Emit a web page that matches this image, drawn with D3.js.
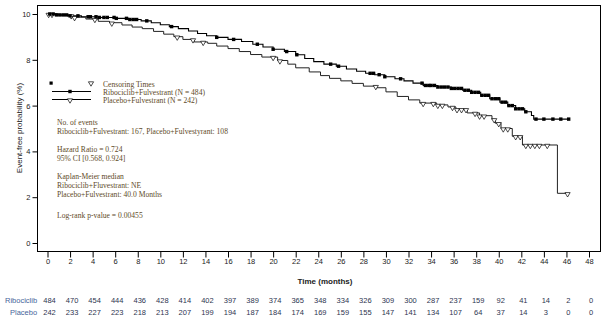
<!DOCTYPE html>
<html lang="en">
<head>
    <meta charset="UTF-8">
    <title>Event-free probability</title>
    <script src="https://d3js.org/d3.v7.min.js"></script>
    <style>
        body { margin: 0; background: #fff; }
        .note { font-family: "Liberation Serif", "Times New Roman", serif; font-size: 7.6px; fill: #5e4a1f; }
        .tick-lab { font-family: "Liberation Sans", Arial, sans-serif; font-size: 7.5px; fill: #222; }
        .risk { font-family: "Liberation Sans", Arial, sans-serif; font-size: 7.5px; }
    </style>
</head>
<body>
<div id="chart"></div>
<script>
// step points (time in months, survival 0..1)
const ribTime = [0, 0.8, 1.8, 3.0, 4.5, 6.0, 7.2, 8.3, 9.2, 10.0, 10.8, 11.6, 12.5, 13.3, 14.1, 15.0, 16.0, 17.2, 18.2, 19.1, 20.0, 21.0, 22.0, 22.8, 23.6, 24.5, 25.6, 26.5, 27.4, 28.2, 29.0, 29.9, 30.8, 31.6, 32.4, 33.3, 34.6, 35.8, 36.8, 37.6, 38.4, 39.2, 40.1, 40.8, 41.5, 42.3, 42.9, 43.1, 46.2];
const ribSurv = [1.0, 0.996, 0.992, 0.988, 0.985, 0.981, 0.976, 0.970, 0.962, 0.953, 0.945, 0.936, 0.926, 0.915, 0.905, 0.898, 0.889, 0.880, 0.868, 0.856, 0.846, 0.836, 0.822, 0.806, 0.792, 0.781, 0.772, 0.760, 0.750, 0.741, 0.735, 0.726, 0.717, 0.708, 0.698, 0.688, 0.681, 0.675, 0.667, 0.658, 0.645, 0.630, 0.615, 0.600, 0.586, 0.573, 0.557, 0.541, 0.541];
const plaTime = [0, 1.0, 2.2, 3.4, 4.5, 5.5, 6.6, 7.5, 8.4, 9.4, 10.3, 11.2, 12.0, 13.0, 14.2, 15.0, 16.0, 17.0, 18.0, 19.0, 20.4, 21.3, 22.0, 23.2, 24.2, 25.0, 26.0, 27.0, 28.0, 29.2, 30.0, 31.0, 32.0, 33.0, 34.5, 35.5, 36.2, 37.2, 38.3, 39.4, 39.7, 40.2, 41.2, 42.1, 45.2, 46.1];
const plaSurv = [1.0, 0.994, 0.986, 0.978, 0.968, 0.962, 0.952, 0.943, 0.936, 0.924, 0.912, 0.901, 0.889, 0.878, 0.872, 0.860, 0.849, 0.836, 0.823, 0.812, 0.797, 0.781, 0.765, 0.747, 0.731, 0.719, 0.708, 0.697, 0.685, 0.678, 0.660, 0.640, 0.625, 0.611, 0.603, 0.594, 0.584, 0.568, 0.556, 0.540, 0.523, 0.500, 0.466, 0.428, 0.217, 0.217];

// censoring times
const ribCensor = [0.2, 0.5, 0.8, 1.1, 1.4, 1.7, 2.0, 2.7, 3.6, 3.8, 4.3, 4.6, 5.0, 5.3, 5.9, 6.1, 7.0, 7.3, 7.6, 7.9, 8.8, 11.0, 15.0, 16.5, 18.6, 20.0, 21.2, 22.1, 25.1, 25.8, 28.6, 28.9, 29.4, 29.9, 31.3, 33.2, 33.5, 33.8, 34.0, 34.3, 34.6, 34.9, 35.2, 35.5, 35.8, 36.1, 36.4, 36.7, 37.0, 37.3, 37.6, 37.9, 38.2, 38.5, 38.8, 39.1, 39.4, 39.7, 40.0, 40.3, 40.6, 40.9, 41.2, 41.5, 41.8, 42.1, 42.4, 43.3, 44.0, 44.8, 45.5, 46.2];
const plaCensor = [0.1, 0.4, 2.1, 2.4, 4.2, 5.7, 11.5, 12.9, 13.8, 20.0, 20.6, 29.1, 33.3, 34.2, 34.6, 35.0, 35.9, 36.3, 36.7, 37.1, 37.9, 38.3, 38.7, 39.6, 40.0, 40.4, 40.8, 41.5, 41.9, 42.4, 42.8, 43.2, 43.6, 44.3, 46.1];

// axes
const xTicks = [0, 2, 4, 6, 8, 10, 12, 14, 16, 18, 20, 22, 24, 26, 28, 30, 32, 34, 36, 38, 40, 42, 44, 46, 48];
const yTicks = [0, 0.2, 0.4, 0.6, 0.8, 1.0];
const yTickLabels = ["0", "2", "4", "6", "8", "10"];

// number at risk
const riskTimes = [0, 2, 4, 6, 8, 10, 12, 14, 16, 18, 20, 22, 24, 26, 28, 30, 32, 34, 36, 38, 40, 42, 44, 46, 48];
const ribRisk = [484, 470, 454, 444, 436, 428, 414, 402, 397, 389, 374, 365, 348, 334, 326, 309, 300, 287, 237, 159, 92, 41, 14, 2, 0];
const plaRisk = [242, 233, 227, 223, 218, 213, 207, 199, 194, 187, 184, 174, 169, 159, 155, 147, 141, 134, 107, 64, 37, 14, 3, 0, 0];

const notes = [
    ["No. of events", 122],
    ["Ribociclib+Fulvestrant: 167, Placebo+Fulvestyrant: 108", 131],
    ["Hazard Ratio = 0.724", 149],
    ["95% CI [0.568, 0.924]", 158],
    ["Kaplan-Meier median", 176],
    ["Ribociclib+Fluvestrant: NE", 185],
    ["Placebo+Fulvestrant: 40.0 Months", 194],
    ["Log-rank p-value = 0.00455", 215]
];

const W = 608, H = 323;
const svg = d3.select("#chart").append("svg")
    .attr("width", W).attr("height", H);

const x = d3.scaleLinear().domain([0, 48]).range([47.5, 589]);
const y = d3.scaleLinear().domain([0, 1]).range([243, 14]);

// frame
svg.append("rect")
    .attr("x", 37.5).attr("y", 5.5)
    .attr("width", 563).attr("height", 246)
    .attr("fill", "none").attr("stroke", "#000").attr("stroke-width", 1);

// x axis
const xAxis = svg.append("g")
    .attr("transform", "translate(0,251.5)")
    .call(d3.axisBottom(x).tickValues(xTicks).tickSize(6).tickSizeOuter(0).tickFormat(d3.format("d")));
xAxis.select(".domain").remove();
xAxis.selectAll("text").attr("class", "tick-lab").attr("dy", "0.9em").attr("y", 6);

// y axis
const yAxis = svg.append("g")
    .attr("transform", "translate(37.5,0)")
    .call(d3.axisLeft(y).tickValues(yTicks).tickSize(5).tickSizeOuter(0)
        .tickFormat((d, i) => yTickLabels[i]));
yAxis.select(".domain").remove();
yAxis.selectAll("text").attr("class", "tick-lab").attr("x", -7);

svg.append("text")
    .attr("transform", "translate(22,128) rotate(-90)")
    .attr("text-anchor", "middle")
    .style("font-family", "Liberation Sans, Arial, sans-serif")
    .style("font-size", "8px")
    .attr("fill", "#222")
    .text("Event-free probability (%)");

svg.append("text")
    .attr("x", 325).attr("y", 284)
    .attr("text-anchor", "middle")
    .style("font-family", "Liberation Sans, Arial, sans-serif")
    .style("font-size", "8px")
    .style("font-weight", "bold")
    .attr("fill", "#222")
    .text("Time (months)");

// curves
const line = d3.line()
    .x(d => x(d[0]))
    .y(d => y(d[1]))
    .curve(d3.curveStepAfter);

const ribPts = ribTime.map((t, i) => [t, ribSurv[i]]);
const plaPts = plaTime.map((t, i) => [t, plaSurv[i]]);

svg.append("path").datum(plaPts)
    .attr("d", line).attr("fill", "none")
    .attr("stroke", "#222").attr("stroke-width", 1);
svg.append("path").datum(ribPts)
    .attr("d", line).attr("fill", "none")
    .attr("stroke", "#000").attr("stroke-width", 1.1);

function survAt(times, surv, t) {
    let idx = d3.bisectRight(times, t) - 1;
    if (idx < 0) idx = 0;
    return surv[idx];
}

const tri = "M-2.6,-1.2L2.6,-1.2L0,3.2Z";

svg.selectAll(".cens-pla")
    .data(plaCensor)
    .join("path")
    .attr("class", "cens-pla")
    .attr("d", tri)
    .attr("transform", d => `translate(${x(d)},${y(survAt(plaTime, plaSurv, d)) + 0.5})`)
    .attr("fill", "#fff").attr("stroke", "#000").attr("stroke-width", 0.7);

svg.selectAll(".cens-rib")
    .data(ribCensor)
    .join("rect")
    .attr("class", "cens-rib")
    .attr("x", d => x(d) - 1.7)
    .attr("y", d => y(survAt(ribTime, ribSurv, d)) - 1.7)
    .attr("width", 3.4).attr("height", 3.4)
    .attr("fill", "#000");

// legend
const leg = svg.append("g");
leg.append("rect").attr("x", 49.5).attr("y", 81.5).attr("width", 3.2).attr("height", 3.2).attr("fill", "#000");
leg.append("path").attr("d", tri).attr("transform", "translate(91,83)")
    .attr("fill", "#fff").attr("stroke", "#000").attr("stroke-width", 0.7);
leg.append("line").attr("x1", 52).attr("x2", 91).attr("y1", 91.5).attr("y2", 91.5).attr("stroke", "#000");
leg.append("rect").attr("x", 68.3).attr("y", 89.8).attr("width", 3.4).attr("height", 3.4).attr("fill", "#000");
leg.append("line").attr("x1", 52).attr("x2", 91).attr("y1", 99.5).attr("y2", 99.5).attr("stroke", "#000");
leg.append("path").attr("d", tri).attr("transform", "translate(70,100)")
    .attr("fill", "#fff").attr("stroke", "#000").attr("stroke-width", 0.7);

const legText = [
    ["Censoring Times", 84],
    ["Ribociclib+Fulvestrant (N = 484)", 92.5],
    ["Placebo+Fulvestrant (N = 242)", 100.5]
];
leg.selectAll("text").data(legText).join("text")
    .attr("class", "note")
    .attr("x", 103).attr("y", d => d[1])
    .attr("dy", "0.35em")
    .text(d => d[0]);

svg.selectAll(".stat").data(notes).join("text")
    .attr("class", "note stat")
    .attr("x", 57).attr("y", d => d[1])
    .attr("dy", "0.35em")
    .text(d => d[0]);

// number at risk table
const risk = svg.append("g").attr("class", "risk");
risk.append("text").attr("x", 5).attr("y", 300).attr("dy", "0.35em")
    .attr("fill", "#46659a").text("Ribociclib");
risk.append("text").attr("x", 10).attr("y", 312).attr("dy", "0.35em")
    .attr("fill", "#46659a").text("Placebo");
risk.selectAll(".rr").data(ribRisk).join("text")
    .attr("class", "rr")
    .attr("x", (d, i) => x(riskTimes[i]) + 2).attr("y", 300).attr("dy", "0.35em")
    .attr("text-anchor", "middle").attr("fill", "#2e3550")
    .text(d => d);
risk.selectAll(".pr").data(plaRisk).join("text")
    .attr("class", "pr")
    .attr("x", (d, i) => x(riskTimes[i]) + 2).attr("y", 312).attr("dy", "0.35em")
    .attr("text-anchor", "middle").attr("fill", "#2e3550")
    .text(d => d);
</script>
</body>
</html>
